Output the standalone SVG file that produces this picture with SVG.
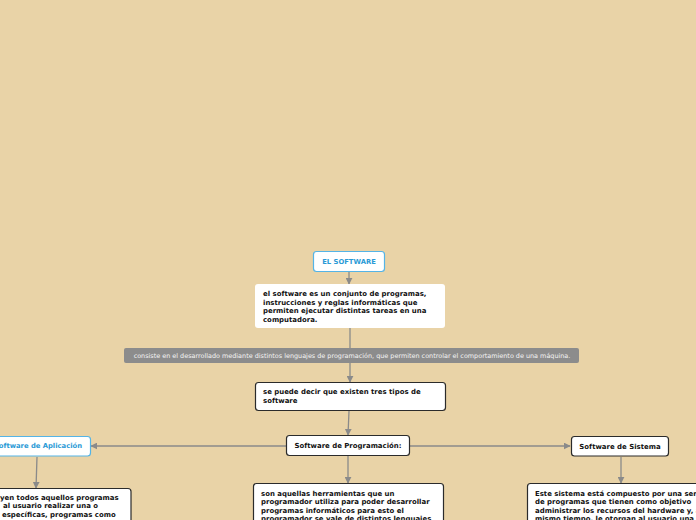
<svg xmlns="http://www.w3.org/2000/svg" width="696" height="520" viewBox="0 0 696 520">
<defs>
<style>
.t{font-family:"DejaVu Sans",Verdana,sans-serif;font-weight:bold;font-size:6.95px;fill:#111}
.tb{font-family:"DejaVu Sans",Verdana,sans-serif;font-weight:bold;font-size:6.8px;fill:#2a9ad6}
.tg{font-family:"DejaVu Sans",Verdana,sans-serif;font-size:6.45px;fill:#f4f4f4}
.bx{fill:#fff;stroke:#2b2b2b;stroke-width:1.2}
.bb{fill:#fff;stroke:#55b4e6;stroke-width:1.2}
.bw{fill:#fff;stroke:none}
.c{stroke:#8a8a8a;stroke-width:1.3;fill:none}
</style>
<marker id="a" viewBox="0 0 10 10" refX="9" refY="5" markerWidth="7" markerHeight="7" markerUnits="userSpaceOnUse" orient="auto">
<path d="M0,0 L10,5 L0,10 z" fill="#8a8a8a"/>
</marker>
</defs>
<rect width="696" height="520" fill="#e9d3a7"/>
<g id="connectors">
<line class="c" x1="349" y1="271" x2="349" y2="284" marker-end="url(#a)"/>
<line class="c" x1="350" y1="328" x2="350" y2="348"/>
<line class="c" x1="350" y1="363" x2="350" y2="382" marker-end="url(#a)"/>
<line class="c" x1="349" y1="411" x2="348" y2="435" marker-end="url(#a)"/>
<line class="c" x1="286" y1="446" x2="91" y2="446" marker-end="url(#a)"/>
<line class="c" x1="409" y1="446" x2="570" y2="446" marker-end="url(#a)"/>
<line class="c" x1="37" y1="457" x2="36" y2="488" marker-end="url(#a)"/>
<line class="c" x1="348" y1="456" x2="348" y2="483" marker-end="url(#a)"/>
<line class="c" x1="621" y1="457" x2="621" y2="483" marker-end="url(#a)"/>
</g>
<g id="n-el-software">
<rect class="bb" x="313.5" y="251.5" width="71" height="20" rx="3"/>
<text class="tb" x="349" y="264" text-anchor="middle">EL SOFTWARE</text>
</g>
<g id="n-definicion">
<rect class="bw" x="255" y="284" width="190" height="44" rx="3"/>
<text class="t" x="263" y="296">el software es un conjunto de programas,</text>
<text class="t" x="263" y="304.5">instrucciones y reglas informáticas  que</text>
<text class="t" x="263" y="313">permiten ejecutar distintas tareas en una</text>
<text class="t" x="263" y="321.5">computadora.</text>
</g>
<g id="n-consiste">
<rect x="124" y="348" width="455" height="15" rx="2" fill="#8c8c8c"/>
<text class="tg" x="352" y="358" text-anchor="middle">consiste en el desarrollado mediante distintos lenguajes de programación, que permiten controlar el comportamiento de una máquina.</text>
</g>
<g id="n-tres-tipos">
<rect class="bx" x="255.5" y="382.5" width="190" height="28" rx="3"/>
<text class="t" x="263" y="394">se puede decir que existen tres tipos de</text>
<text class="t" x="263" y="402.5">software</text>
</g>
<g id="n-programacion">
<rect class="bx" x="286.5" y="435.5" width="123" height="20" rx="3"/>
<text class="t" x="348" y="448" text-anchor="middle">Software de Programación:</text>
</g>
<g id="n-aplicacion">
<rect class="bb" x="-12" y="436.5" width="102.5" height="19.5" rx="3"/>
<text class="tb" x="82" y="448" text-anchor="end">Software de Aplicación</text>
</g>
<g id="n-sistema">
<rect class="bx" x="571.5" y="436.5" width="97" height="19.5" rx="3"/>
<text class="t" x="620" y="449" text-anchor="middle">Software de Sistema</text>
</g>
<g id="n-aplicacion-desc">
<rect class="bx" x="-60" y="488.5" width="191" height="40" rx="3"/>
<text class="t" x="0" y="499.5">yen todos aquellos programas</text>
<text class="t" x="3" y="508">al usuario realizar una o</text>
<text class="t" x="2" y="516.5">específicas, programas como</text>
</g>
<g id="n-programacion-desc">
<rect class="bx" x="253.5" y="483.5" width="190" height="45" rx="3"/>
<text class="t" x="261" y="495.5">son aquellas herramientas que un</text>
<text class="t" x="261" y="504">programador utiliza para poder desarrollar</text>
<text class="t" x="261" y="512.5">programas informáticos para esto el</text>
<text class="t" x="261" y="521">programador se vale de distintos lenguajes</text>
</g>
<g id="n-sistema-desc">
<rect class="bx" x="527.5" y="483.5" width="180" height="45" rx="3"/>
<text class="t" x="535" y="495.5">Este sistema está compuesto por una serie</text>
<text class="t" x="535" y="504">de programas que tienen como objetivo</text>
<text class="t" x="535" y="512.5">administrar los recursos del hardware y, al</text>
<text class="t" x="535" y="521">mismo tiempo, le otorgan al usuario una</text>
</g>
</svg>
